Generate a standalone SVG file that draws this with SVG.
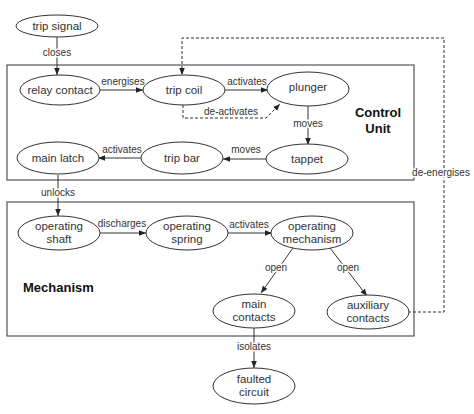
<svg xmlns="http://www.w3.org/2000/svg" width="474" height="414" viewBox="0 0 474 414">
<style>
.box{fill:none;stroke:#555;stroke-width:1.2}
.node ellipse{fill:#fff;stroke:#333;stroke-width:1}
.node text{font-family:"Liberation Sans",Arial,sans-serif;font-size:11.5px;fill:#333;text-anchor:middle}
.ttl{font-family:"Liberation Sans",Arial,sans-serif;font-size:13px;font-weight:bold;fill:#111}
.edge{fill:none;stroke:#333;stroke-width:1}
.dash{fill:none;stroke:#333;stroke-width:1;stroke-dasharray:3,2}
.lbl{font-family:"Liberation Sans",Arial,sans-serif;font-size:10px;fill:#333;text-anchor:middle;stroke:#fff;stroke-width:3;paint-order:stroke;stroke-linejoin:round}
</style>
<defs>
<marker id="arr" viewBox="0 0 10 10" refX="10" refY="5" markerWidth="7" markerHeight="7" markerUnits="userSpaceOnUse" orient="auto"><path d="M0,1 L10,5 L0,9 z" fill="#222"/></marker>
</defs>
<rect width="474" height="414" fill="#fff"/>
<g id="frames">
<rect class="box" x="7" y="65" width="407" height="115"/>
<rect class="box" x="7" y="202" width="407" height="134"/>
<text class="ttl" x="378" y="117" text-anchor="middle">Control</text>
<text class="ttl" x="378" y="133" text-anchor="middle">Unit</text>
<text class="ttl" x="23" y="292">Mechanism</text>
</g>
<g id="connectors">
<path class="edge" d="M57,37 V75" marker-end="url(#arr)"/>
<text class="lbl" x="57" y="56">closes</text>
<path class="edge" d="M100,90 H143" marker-end="url(#arr)"/>
<text class="lbl" x="123" y="85">energises</text>
<path class="edge" d="M225,90 H268" marker-end="url(#arr)"/>
<text class="lbl" x="247" y="85">activates</text>
<path class="dash" d="M183,105 V118 H266 L280,104" marker-end="url(#arr)"/>
<text class="lbl" x="231" y="115">de-activates</text>
<path class="edge" d="M308,106 V145" marker-end="url(#arr)"/>
<text class="lbl" x="308" y="127">moves</text>
<path class="edge" d="M266,159 H223" marker-end="url(#arr)"/>
<text class="lbl" x="246" y="153">moves</text>
<path class="edge" d="M141,158 H98" marker-end="url(#arr)"/>
<text class="lbl" x="122" y="153">activates</text>
<path class="edge" d="M58,175 V216" marker-end="url(#arr)"/>
<text class="lbl" x="58" y="196">unlocks</text>
<path class="edge" d="M100,233 H146" marker-end="url(#arr)"/>
<text class="lbl" x="122" y="227">discharges</text>
<path class="edge" d="M228,233 H272" marker-end="url(#arr)"/>
<text class="lbl" x="249" y="228">activates</text>
<path class="edge" d="M293,248 L261,293" marker-end="url(#arr)"/>
<text class="lbl" x="276" y="271">open</text>
<path class="edge" d="M330,248 L367,296" marker-end="url(#arr)"/>
<text class="lbl" x="348" y="271">open</text>
<path class="edge" d="M254,328 V368" marker-end="url(#arr)"/>
<text class="lbl" x="254" y="350">isolates</text>
<path class="dash" d="M408,312 H444 V38 H182 V75" marker-end="url(#arr)"/>
<text class="lbl" x="441" y="176">de-energises</text>
</g>
<g id="trip-signal" class="node"><ellipse cx="57" cy="26" rx="41" ry="11"/><text x="57" y="30">trip signal</text></g>
<g id="relay-contact" class="node"><ellipse cx="60" cy="90" rx="40" ry="15"/><text x="60" y="94">relay contact</text></g>
<g id="trip-coil" class="node"><ellipse cx="184" cy="90" rx="41" ry="15"/><text x="184" y="94">trip coil</text></g>
<g id="plunger" class="node"><ellipse cx="308" cy="89" rx="41" ry="17"/><text x="308" y="91">plunger</text></g>
<g id="tappet" class="node"><ellipse cx="307" cy="159" rx="41" ry="15"/><text x="307" y="163">tappet</text></g>
<g id="trip-bar" class="node"><ellipse cx="182" cy="158" rx="41" ry="16"/><text x="182" y="162">trip bar</text></g>
<g id="main-latch" class="node"><ellipse cx="58" cy="158" rx="41" ry="16"/><text x="58" y="162">main latch</text></g>
<g id="operating-shaft" class="node"><ellipse cx="59" cy="233" rx="41" ry="17"/><text x="59" y="230">operating</text><text x="59" y="243">shaft</text></g>
<g id="operating-spring" class="node"><ellipse cx="187" cy="233" rx="41" ry="17"/><text x="187" y="230">operating</text><text x="187" y="243">spring</text></g>
<g id="operating-mechanism" class="node"><ellipse cx="312" cy="233" rx="41" ry="17"/><text x="312" y="230">operating</text><text x="312" y="243">mechanism</text></g>
<g id="main-contacts" class="node"><ellipse cx="254" cy="311" rx="41" ry="17"/><text x="254" y="308">main</text><text x="254" y="321">contacts</text></g>
<g id="auxiliary-contacts" class="node"><ellipse cx="368" cy="312" rx="41" ry="17"/><text x="368" y="309">auxiliary</text><text x="368" y="322">contacts</text></g>
<g id="faulted-circuit" class="node"><ellipse cx="254" cy="386" rx="41" ry="18"/><text x="254" y="383">faulted</text><text x="254" y="396">circuit</text></g>
</svg>
